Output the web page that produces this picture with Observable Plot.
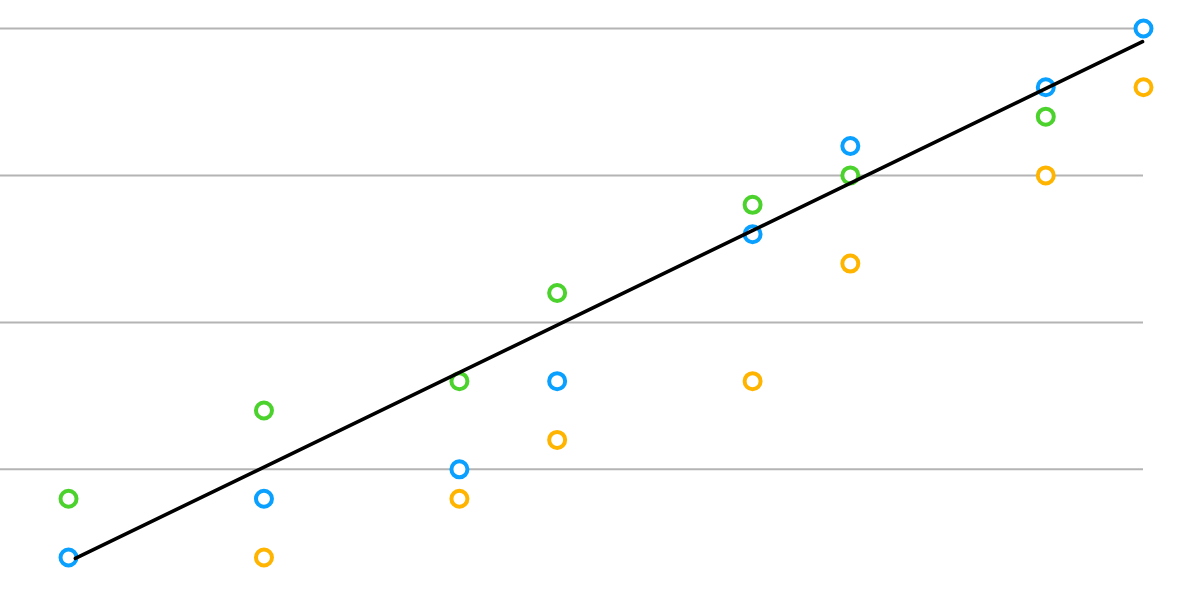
<!DOCTYPE html>
<html>
<head>
<meta charset="utf-8">
<script src="https://cdn.jsdelivr.net/npm/d3@7"></script>
<script src="https://cdn.jsdelivr.net/npm/@observablehq/plot@0.6"></script>
<style>
  html, body { margin: 0; padding: 0; background: #fff; }
  #chart svg { display: block; }
</style>
</head>
<body>
<div id="chart"></div>
<script>
const seriesNames = ["Series A", "Series B", "Series C"];
const seriesColors = ["#0aa0ff", "#4cd22c", "#ffb400"];
const xValues = [0, 2, 4, 5, 7, 8, 10, 11];
const blueY   = [2, 4, 5, 8, 13, 16, 18, 20];
const greenX  = [0, 2, 4, 5, 7, 8, 10];
const greenY  = [4, 7, 8, 11, 14, 15, 17];
const orangeX = [2, 4, 5, 7, 8, 10, 11];
const orangeY = [2, 4, 6, 8, 12, 15, 18];
const trendX  = [0.07, 10.99];
const trendY  = [1.97, 19.55];
const yTicks  = [5, 10, 15, 20];

const dots = [
  ...greenX.map((x, i) => ({x, y: greenY[i], s: seriesNames[1]})),
  ...xValues.map((x, i) => ({x, y: blueY[i], s: seriesNames[0]})),
  ...orangeX.map((x, i) => ({x, y: orangeY[i], s: seriesNames[2]}))
];
const trend = trendX.map((x, i) => ({x, y: trendY[i]}));

const chart = Plot.plot({
  width: 1200,
  height: 590,
  marginLeft: 0,
  marginRight: 57,
  marginTop: 0,
  marginBottom: 0,
  x: {domain: [-0.696, 11], axis: null},
  y: {domain: [0.877, 20.952], axis: null},
  color: {domain: seriesNames, range: seriesColors},
  marks: [
    Plot.gridY(yTicks, {stroke: "#b4b4b4", strokeOpacity: 1, strokeWidth: 2}),
    Plot.dot(dots, {x: "x", y: "y", r: 8, stroke: "s", fill: "white", strokeWidth: 4}),
    Plot.line(trend, {x: "x", y: "y", stroke: "black", strokeWidth: 3.6})
  ]
});
document.getElementById("chart").appendChild(chart);
</script>
</body>
</html>
